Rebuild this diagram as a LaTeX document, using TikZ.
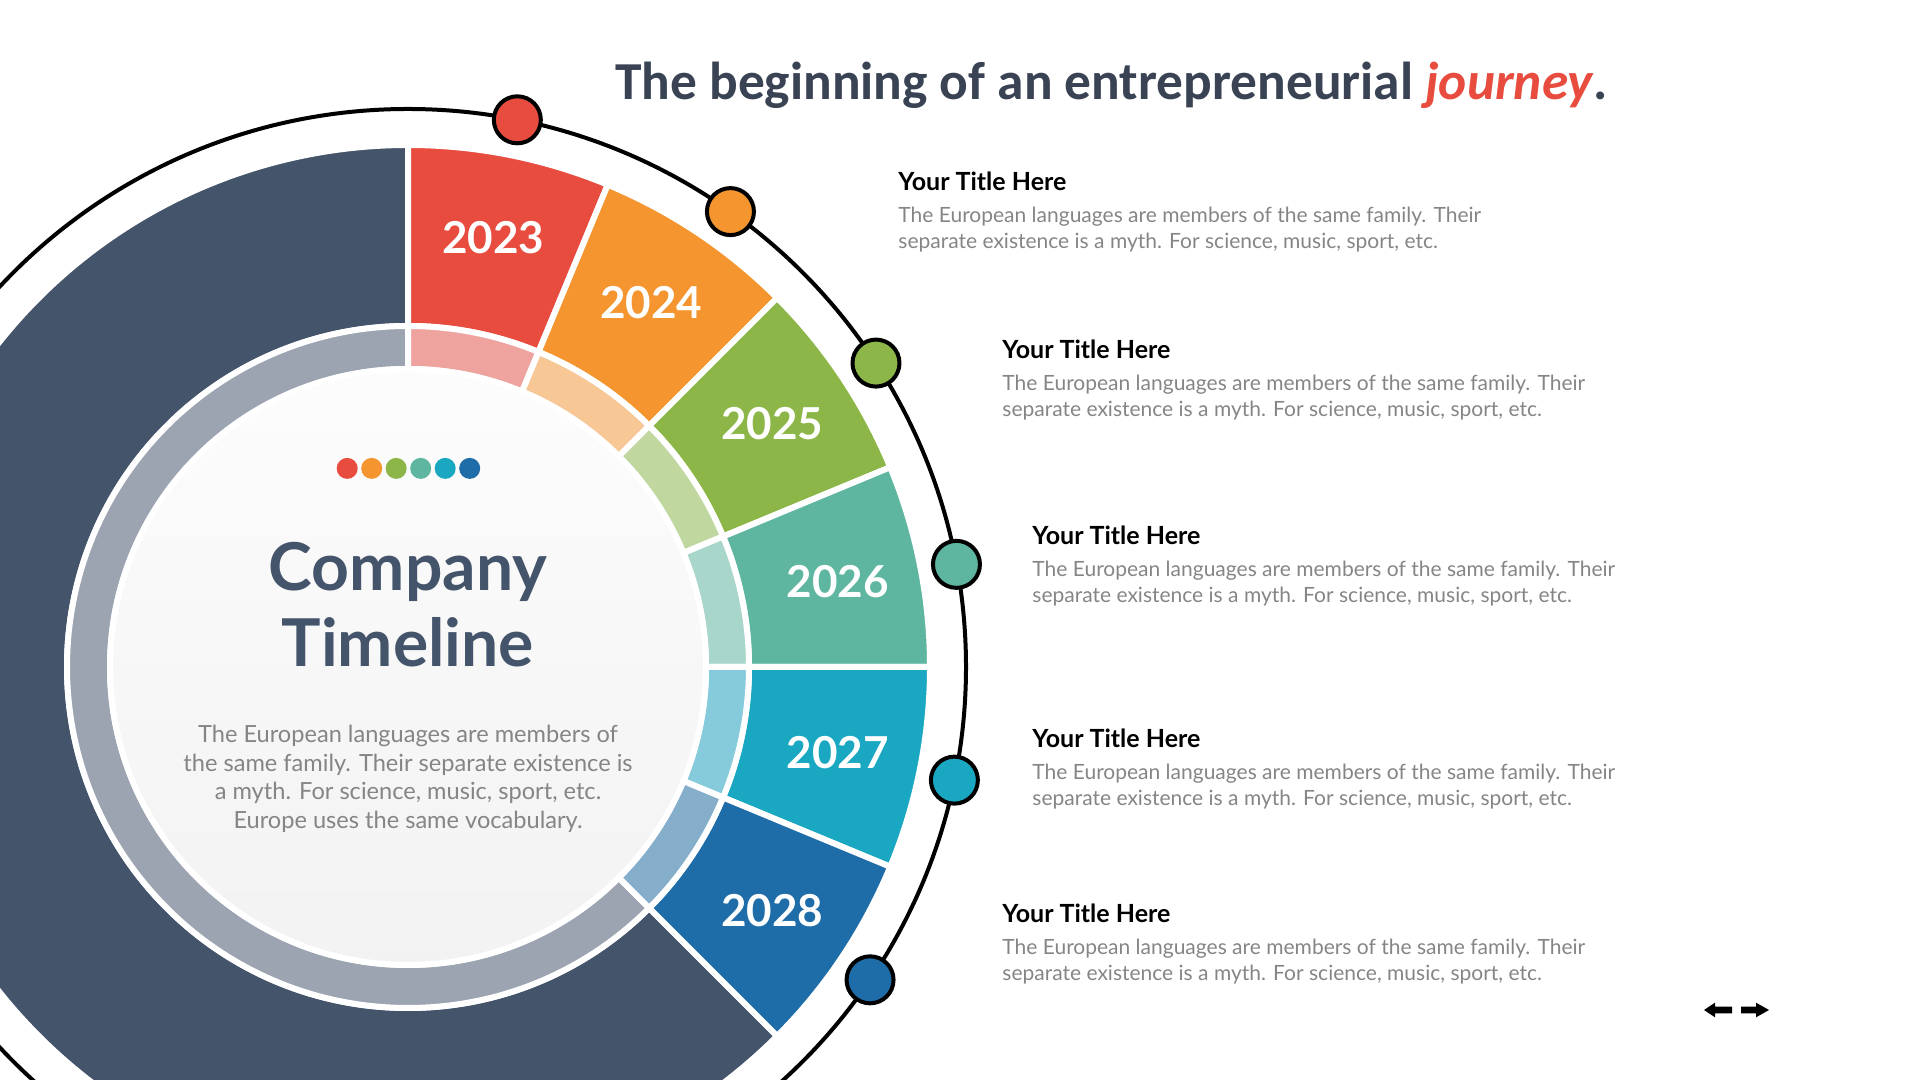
\documentclass[tikz,border=0pt]{standalone}
\usepackage{fontspec}
\setmainfont{Lato}
\newfontfamily\headfont{Carlito}
\usetikzlibrary{positioning}

\definecolor{darkslate}{HTML}{44546A}
\definecolor{ringgray}{HTML}{9BA4B0}
\definecolor{titlegray}{HTML}{3A4354}
\definecolor{bodygray}{HTML}{858585}
\definecolor{segred}{HTML}{E74C3F}
\definecolor{segorange}{HTML}{F49530}
\definecolor{seggreen}{HTML}{8CB648}
\definecolor{segteal}{HTML}{5EB6A1}
\definecolor{segcyan}{HTML}{19A7C2}
\definecolor{segblue}{HTML}{1F6DA8}
\definecolor{palered}{HTML}{EFA39E}
\definecolor{paleorange}{HTML}{F7C796}
\definecolor{palegreen}{HTML}{C0D8A0}
\definecolor{paleteal}{HTML}{A9D6CB}
\definecolor{palecyan}{HTML}{86CBDB}
\definecolor{paleblue}{HTML}{85AECB}

\begin{document}
\begin{tikzpicture}[x=0.5pt,y=0.5pt,line join=round,line cap=round,
    sector/.style={draw=white,line width=3pt},
    yearlabel/.style={text=white,font=\bfseries\fontsize{22}{24}\selectfont},
    marker/.style={circle,draw=black,line width=2pt,minimum size=23.5pt,inner sep=0pt},
    dot/.style={circle,minimum size=10.5pt,inner sep=0pt},
    heading/.style={anchor=base west,inner sep=0pt,font=\bfseries\fontsize{12.5}{14}\selectfont},
    blurb/.style={align=left,inner sep=0pt,text=bodygray,font=\fontsize{10.5}{12.8}\selectfont}]
  \useasboundingbox (0,0) rectangle (1920,1080);
  \clip (0,0) rectangle (1920,1080);
  \coordinate (C) at (408,413);

  % dark part and grey ring
  \draw[sector,fill=darkslate] ([shift={(C)}]90:341) arc[start angle=90,end angle=315,radius=341]
    -- ([shift={(C)}]315:522) arc[start angle=315,end angle=90,radius=522] -- cycle;
  \draw[sector,fill=ringgray] ([shift={(C)}]90:298) arc[start angle=90,end angle=315,radius=298]
    -- ([shift={(C)}]315:341) arc[start angle=315,end angle=90,radius=341] -- cycle;

  % year segments
  \foreach \a/\c/\p/\yr [count=\i] in {67.5/segred/palered/2023, 45/segorange/paleorange/2024,
      22.5/seggreen/palegreen/2025, 0/segteal/paleteal/2026,
      -22.5/segcyan/palecyan/2027, -45/segblue/paleblue/2028}{
    \pgfmathsetmacro\b{\a+22.5}
    \pgfmathsetmacro\m{\a+11.25}
    \draw[sector,fill=\c] ([shift={(C)}]\a:341) arc[start angle=\a,end angle=\b,radius=341]
      -- ([shift={(C)}]\b:522) arc[start angle=\b,end angle=\a,radius=522] -- cycle;
    \draw[sector,fill=\p] ([shift={(C)}]\a:298) arc[start angle=\a,end angle=\b,radius=298]
      -- ([shift={(C)}]\b:341) arc[start angle=\b,end angle=\a,radius=341] -- cycle;
    \node[yearlabel] (yr\i) at ([shift={(C)}]\m:438) {\yr};
  }

  % centre disc
  \draw[draw=white,line width=3pt,top color=black!1,bottom color=black!5] (C) circle[radius=298];

  % orbit with markers
  \draw[line width=2pt] (C) circle[radius=558];
  \foreach \m/\c [count=\i] in {78.7/segred, 54.7/segorange, 33/seggreen,
      10.6/segteal, -11.7/segcyan, -34.1/segblue}{
    \node[marker,fill=\c] (mk\i) at ([shift={(C)}]\m:558) {};
  }

  % centre texts
  \foreach \c [count=\i] in {segred,segorange,seggreen,segteal,segcyan,segblue}{
    \node[dot,fill=\c] (dot\i) at (322.7+24.5*\i,611.6) {};
  }
  \node[anchor=base,text=darkslate,font=\bfseries\fontsize{33}{36}\selectfont] (comp) at (408,489) {Company};
  \node[anchor=base,text=darkslate,font=\bfseries\fontsize{33}{36}\selectfont] (tline) at (408,413) {Timeline};
  \node[align=center,inner sep=0pt,text=bodygray,font=\fontsize{11.8}{14.3}\selectfont] (desc) at (408,301)
    {The European languages are members of\\the same family. Their separate existence is\\a myth. For science, music, sport, etc.\\Europe uses the same vocabulary.};

  \node[anchor=base west,inner sep=0pt,text=titlegray,font=\headfont\bfseries\fontsize{26.7}{30}\selectfont] (title) at (615,980)
    {The beginning of an entrepreneurial \textcolor{segred}{\itshape journey}.};

  % side texts
  \foreach \x/\yb [count=\i] in {898/889, 1002/721, 1032/535, 1032/332, 1002/157}{
    \node[heading] (hd\i) at (\x,\yb) {Your Title Here};
    \node[blurb,below right=8pt and 0pt of hd\i.base west] (txt\i)
      {The European languages are members of the same family. Their\\separate existence is a myth. For science, music, sport, etc.};
  }

  % arrows
  \fill (1704,70) -- (1715,77.3) -- (1715,73.3) -- (1732,73.3) -- (1732,66.7) -- (1715,66.7) -- (1715,62.7) -- cycle;
  \fill (1769,70) -- (1756,77.3) -- (1756,73.3) -- (1741,73.3) -- (1741,66.7) -- (1756,66.7) -- (1756,62.7) -- cycle;
\end{tikzpicture}
\end{document}
